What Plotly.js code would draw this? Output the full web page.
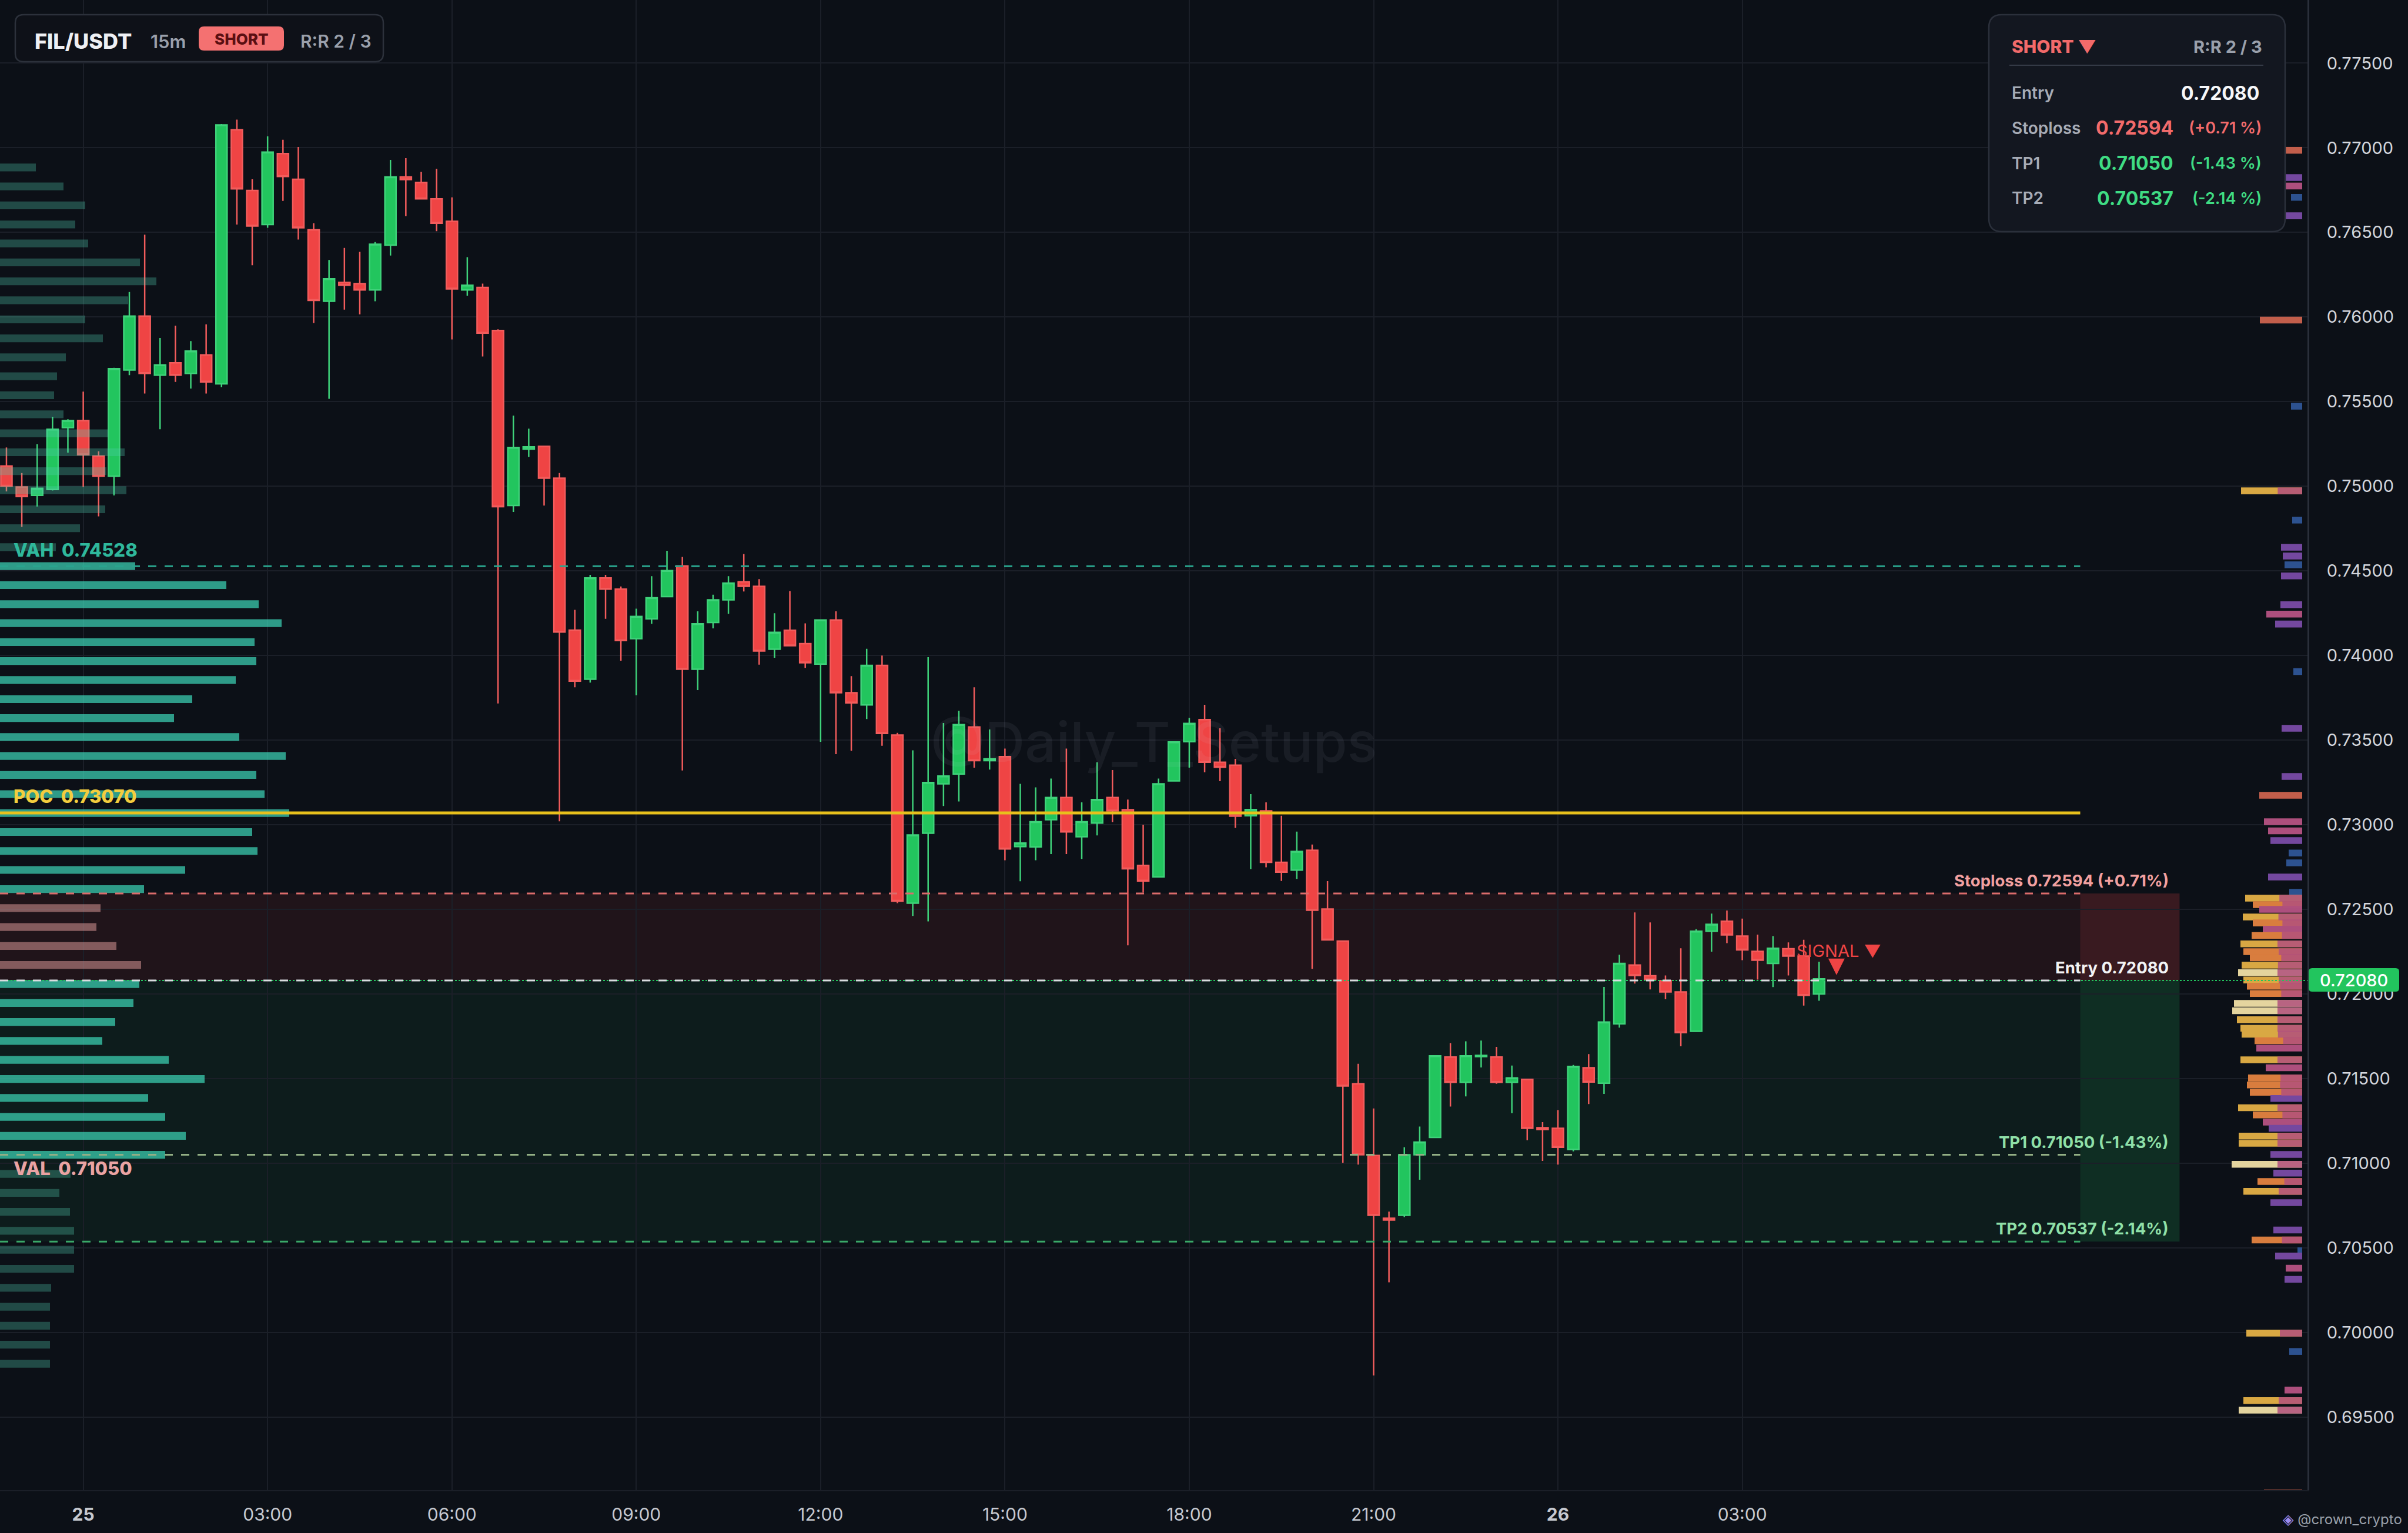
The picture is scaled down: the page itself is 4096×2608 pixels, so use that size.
<!DOCTYPE html>
<html><head><meta charset="utf-8">
<script src="https://cdn.plot.ly/plotly-3.0.1.min.js"></script>
<style>html,body{margin:0;padding:0;background:#0c1017;}#chart{width:4096px;height:2608px;}</style>
</head><body><div id="chart"></div>
<script>
// ---------------- DATA ----------------
const symbol = 'FIL/USDT';
const timeframe = '15m';
const firstBarDay = 24, firstBarMinute = 22 * 60 + 45, barMinutes = 15;

const open = [0.75120,0.74996,0.74946,0.74981,0.75346,0.75388,0.75179,0.75060,0.75687,0.76005,
0.75656,0.75729,0.75667,0.75776,0.75605,0.77106,0.76748,0.76546,0.76966,0.76814,
0.76515,0.76093,0.76204,0.76197,0.76160,0.76425,0.76828,0.76795,0.76698,0.76565,
0.76160,0.76175,0.75920,0.74886,0.75220,0.75236,0.75048,0.74150,0.73860,0.74458,
0.74392,0.74100,0.74217,0.74348,0.74529,0.73919,0.74195,0.74329,0.74436,0.74409,
0.74037,0.74149,0.74070,0.73949,0.74210,0.73780,0.73708,0.73942,0.73530,0.72537,
0.72950,0.73242,0.73300,0.73578,0.73379,0.73402,0.72871,0.72869,0.73030,0.73161,
0.72929,0.73010,0.73161,0.73089,0.72760,0.72692,0.73259,0.73491,0.73621,0.73369,
0.73352,0.73053,0.73082,0.72778,0.72732,0.72849,0.72502,0.72313,0.71470,0.71046,
0.70675,0.70693,0.71050,0.71153,0.71628,0.71478,0.71630,0.71628,0.71478,0.71496,
0.71210,0.71207,0.71082,0.71564,0.71473,0.71824,0.72171,0.72108,0.72079,0.72012,
0.71780,0.72371,0.72430,0.72342,0.72252,0.72181,0.72268,0.72224,0.72000];

const high = [0.75229,0.75078,0.75249,0.75411,0.75396,0.75559,0.75207,0.75700,0.76148,0.76486,
0.75876,0.75949,0.75858,0.75957,0.77140,0.77166,0.76814,0.77067,0.77047,0.77005,
0.76554,0.76337,0.76408,0.76385,0.76443,0.76928,0.76939,0.76857,0.76875,0.76707,
0.76354,0.76197,0.75927,0.75418,0.75340,0.75236,0.75078,0.74270,0.74476,0.74476,
0.74408,0.74277,0.74469,0.74619,0.74582,0.74261,0.74359,0.74469,0.74600,0.74451,
0.74250,0.74381,0.74190,0.74210,0.74261,0.73878,0.74040,0.74000,0.73543,0.73440,
0.73990,0.73601,0.73673,0.73812,0.73563,0.73450,0.73242,0.73221,0.73273,0.73450,
0.73132,0.73369,0.73323,0.73149,0.73000,0.73273,0.73489,0.73632,0.73709,0.73570,
0.73389,0.73181,0.73132,0.73053,0.72960,0.72883,0.72667,0.72313,0.71588,0.71324,
0.70714,0.71095,0.71217,0.71635,0.71710,0.71721,0.71725,0.71688,0.71577,0.71496,
0.71243,0.71314,0.71581,0.71645,0.72042,0.72232,0.72482,0.72423,0.72110,0.72270,
0.72383,0.72475,0.72493,0.72446,0.72351,0.72342,0.72305,0.72321,0.72190];

const low = [0.74970,0.74760,0.74880,0.74975,0.75199,0.74996,0.74822,0.74946,0.75656,0.75548,
0.75337,0.75616,0.75577,0.75548,0.75586,0.76546,0.76306,0.76527,0.76686,0.76458,
0.75965,0.75517,0.76044,0.76016,0.76093,0.76363,0.76596,0.76698,0.76507,0.75867,
0.76126,0.75767,0.73717,0.74848,0.75174,0.74886,0.73020,0.73812,0.73840,0.74217,
0.73969,0.73765,0.74187,0.74348,0.73321,0.73796,0.74160,0.74246,0.74378,0.73946,
0.73987,0.74058,0.73927,0.73490,0.73417,0.73437,0.73625,0.73467,0.72537,0.72461,
0.72429,0.73111,0.73138,0.73337,0.73326,0.72790,0.72666,0.72790,0.72827,0.72827,
0.72798,0.72937,0.73016,0.72288,0.72599,0.72692,0.73259,0.73337,0.73310,0.73257,
0.72981,0.72738,0.72749,0.72668,0.72680,0.72149,0.72320,0.71003,0.70992,0.69746,
0.70297,0.70682,0.70903,0.71153,0.71335,0.71395,0.71566,0.71470,0.71296,0.71136,
0.71014,0.70992,0.71070,0.71350,0.71410,0.71801,0.72062,0.72027,0.71969,0.71691,
0.71780,0.72250,0.72301,0.72200,0.72085,0.72041,0.72110,0.71932,0.71960];

const close = [0.75001,0.74939,0.74988,0.75337,0.75388,0.75187,0.75060,0.75695,0.76005,0.75667,
0.75717,0.75656,0.75799,0.75616,0.77135,0.76757,0.76538,0.76974,0.76830,0.76527,
0.76098,0.76226,0.76188,0.76160,0.76430,0.76828,0.76812,0.76698,0.76554,0.76166,
0.76188,0.75905,0.74879,0.75229,0.75233,0.75048,0.74139,0.73849,0.74458,0.74392,
0.74088,0.74231,0.74341,0.74502,0.73919,0.74187,0.74329,0.74428,0.74409,0.74027,
0.74137,0.74058,0.73957,0.74210,0.73780,0.73720,0.73942,0.73540,0.72549,0.72940,
0.73250,0.73288,0.73592,0.73379,0.73389,0.72857,0.72892,0.73018,0.73161,0.72958,
0.73018,0.73149,0.73082,0.72740,0.72668,0.73242,0.73489,0.73599,0.73369,0.73340,
0.73051,0.73090,0.72778,0.72720,0.72842,0.72495,0.72320,0.71457,0.71050,0.70693,
0.70665,0.71050,0.71125,0.71635,0.71478,0.71635,0.71637,0.71478,0.71504,0.71207,
0.71200,0.71095,0.71572,0.71480,0.71834,0.72181,0.72110,0.72085,0.72012,0.71772,
0.72371,0.72412,0.72349,0.72261,0.72200,0.72270,0.72224,0.71992,0.72090];

// trade levels
const vahPrice = 0.74528, pocPrice = 0.73070, valPrice = 0.71050;
const entryPrice = 0.72080, stopPrice = 0.72594, tp1Price = 0.71050, tp2Price = 0.70537;
const stopPct = '+0.71', tp1Pct = '-1.43', tp2Pct = '-2.14';
const rrText = 'R:R 2 / 3';

// left volume profile (price bin, relative volume)
const lpPrice = [0.76884,0.76772,0.76660,0.76547,0.76435,0.76323,0.76211,0.76099,0.75986,0.75874,
0.75762,0.75650,0.75538,0.75425,0.75313,0.75201,0.75089,0.74977,0.74864,0.74752,
0.74640,0.74528,0.74416,0.74303,0.74191,0.74079,0.73967,0.73855,0.73742,0.73630,
0.73518,0.73406,0.73294,0.73181,0.73069,0.72957,0.72845,0.72733,0.72620,0.72508,
0.72396,0.72284,0.72172,0.72059,0.71947,0.71835,0.71723,0.71611,0.71498,0.71386,
0.71274,0.71162,0.71050,0.70937,0.70825,0.70713,0.70601,0.70489,0.70376,0.70264,
0.70152,0.70040,0.69928,0.69815];
const lpVolume = [61,108,145,128,150,238,266,218,145,175,
112,97,92,108,184,212,181,215,179,136,
95,230,385,440,479,433,436,401,327,296,
407,486,436,450,492,429,438,315,245,171,
164,198,240,237,227,196,174,287,348,252,
281,316,281,120,101,119,126,126,126,87,
85,85,85,85];

// right volume profile (price, relative volume, tone)
const rpPrice = [0.76985,0.76824,0.76774,0.76707,0.76598,0.75982,0.75473,0.74973,0.74800,0.74640,
0.74588,0.74536,0.74470,0.74300,0.74245,0.74186,0.73905,0.73570,0.73285,0.73174,
0.73018,0.72964,0.72907,0.72833,0.72775,0.72691,0.72601,0.72566,0.72528,0.72500,
0.72455,0.72420,0.72383,0.72346,0.72296,0.72250,0.72214,0.72170,0.72126,0.72083,
0.72046,0.72003,0.71945,0.71901,0.71848,0.71798,0.71762,0.71724,0.71681,0.71611,
0.71564,0.71504,0.71463,0.71419,0.71383,0.71328,0.71286,0.71243,0.71207,0.71161,
0.71118,0.71052,0.70994,0.70942,0.70892,0.70834,0.70767,0.70606,0.70547,0.70483,
0.70452,0.70380,0.70314,0.69996,0.69888,0.69660,0.69598,0.69541,0.69052];
const rpVolume = [29,29,29,19,33,72,19,104,17,36,
33,30,36,37,61,46,15,35,35,73,
65,58,54,23,27,58,22,97,84,73,
101,84,67,86,105,100,89,103,109,100,
94,89,116,119,111,105,103,81,78,105,
62,92,94,89,54,109,84,67,57,108,
108,54,120,49,76,100,54,49,86,8,
46,28,30,95,22,30,100,108,65];
const rpTone = ['S','V','P','B','V','S','B','Y','B','V',
'V','B','V','V','P','V','B','V','V','S',
'P','P','V','B','B','V','B','Y','O','P',
'Y','O','P','O','Y','O','O','Y','C','Y',
'O','O','C','C','Y','Y','Y','O','P','Y',
'P','O','O','O','V','Y','O','P','V','Y',
'Y','V','C','V','O','Y','V','V','O','B',
'V','P','V','Y','B','P','Y','C','S'];

const xTickVals = ['2025-01-25 00:00','2025-01-25 03:00','2025-01-25 06:00','2025-01-25 09:00','2025-01-25 12:00',
'2025-01-25 15:00','2025-01-25 18:00','2025-01-25 21:00','2025-01-26 00:00','2025-01-26 03:00'];
const xTickText = ['<b>25</b>','03:00','06:00','09:00','12:00','15:00','18:00','21:00','<b>26</b>','03:00'];
const yTickVals = [0.695,0.700,0.705,0.710,0.715,0.720,0.725,0.730,0.735,0.740,0.745,0.750,0.755,0.760,0.765,0.770,0.775];

// ---------------- STYLE / LAYOUT ----------------
function stamp(totalMin){
  const d = firstBarDay + Math.floor(totalMin / 1440);
  const m = totalMin % 1440;
  const p = n => String(n).padStart(2,'0');
  return `2025-01-${p(d)} ${p(Math.floor(m/60))}:${p(m%60)}`;
}
const times = open.map((_, i) => stamp(firstBarMinute + i * barMinutes));

const BG = '#0c1017';
const FONT = 'Inter, "Noto Sans", "DejaVu Sans", sans-serif';
const W = 3925, H = 2535;           // plot area in pixels
const PX = v => v / W, PY = v => 1 - v / H;
const xRange = ['2025-01-24 22:38:42', '2025-01-26 12:11:54'];
const lineEnd = '2025-01-26 08:30';
const zoneEnd = '2025-01-26 10:07';
const labelX = '2025-01-26 09:57:30';

const toneColor = {Y:'#d9a843', C:'#e4d49e', O:'#d97d3e', S:'#c25e4b', P:'#ad4f7d', V:'#74489f', B:'#2d5290'};

const lpColor = lpPrice.map(p => {
  if (p > entryPrice && p < stopPrice) return 'rgba(215,150,150,0.55)';
  if (p <= vahPrice + 1e-6 && p >= valPrice - 1e-6) return 'rgba(64,231,197,0.65)';
  return 'rgba(82,209,180,0.30)';
});

const traces = [
  {
    type:'candlestick', x: times, open, high, low, close, xaxis:'x', yaxis:'y',
    increasing:{fillcolor:'#22c55e', line:{color:'#3fd27a', width:2.5}},
    decreasing:{fillcolor:'#ef4444', line:{color:'#f25c5c', width:2.5}},
    whiskerwidth:0, hoverinfo:'skip', showlegend:false
  },
  {
    type:'bar', orientation:'h', y: lpPrice, x: lpVolume, xaxis:'x2', yaxis:'y',
    width: 0.00046, marker:{color: lpColor, line:{width:0}}, hoverinfo:'skip', showlegend:false
  },
  {
    type:'bar', orientation:'h', y: rpPrice, x: rpVolume, xaxis:'x3', yaxis:'y',
    width: 0.0004, marker:{color: rpTone.map(t => toneColor[t]), line:{width:0}}, hoverinfo:'skip', showlegend:false
  },
  {
    type:'bar', orientation:'h', y: rpPrice,
    x: rpVolume.map((v, i) => ('YCO'.includes(rpTone[i]) ? Math.min(v * 0.4, 42) : 0)),
    xaxis:'x3', yaxis:'y', width: 0.0004,
    marker:{color:'rgba(176,80,125,0.85)', line:{width:0}}, hoverinfo:'skip', showlegend:false
  }
];

function rr(x0, y0, x1, y1, r){
  const X = v => PX(v), Y = v => PY(v);
  return `M${X(x0+r)},${Y(y0)} L${X(x1-r)},${Y(y0)} Q${X(x1)},${Y(y0)} ${X(x1)},${Y(y0+r)} ` +
         `L${X(x1)},${Y(y1-r)} Q${X(x1)},${Y(y1)} ${X(x1-r)},${Y(y1)} L${X(x0+r)},${Y(y1)} ` +
         `Q${X(x0)},${Y(y1)} ${X(x0)},${Y(y1-r)} L${X(x0)},${Y(y0+r)} Q${X(x0)},${Y(y0)} ${X(x0+r)},${Y(y0)} Z`;
}
function hline(y, color, width, dash, x0, x1){
  return {type:'line', xref:'x', yref:'y', x0: x0 || xRange[0], x1: x1 || lineEnd, y0:y, y1:y,
          line:{color, width, dash}, layer:'above'};
}

const shapes = [
  // trade zones
  {type:'rect', xref:'x', yref:'y', x0:xRange[0], x1:lineEnd, y0:entryPrice, y1:stopPrice, fillcolor:'rgba(239,68,68,0.09)', line:{width:0}, layer:'below'},
  {type:'rect', xref:'x', yref:'y', x0:lineEnd, x1:zoneEnd, y0:entryPrice, y1:stopPrice, fillcolor:'rgba(239,68,68,0.20)', line:{width:0}, layer:'below'},
  {type:'rect', xref:'x', yref:'y', x0:xRange[0], x1:lineEnd, y0:tp2Price, y1:entryPrice, fillcolor:'rgba(34,197,94,0.07)', line:{width:0}, layer:'below'},
  {type:'rect', xref:'x', yref:'y', x0:lineEnd, x1:zoneEnd, y0:tp2Price, y1:entryPrice, fillcolor:'rgba(34,197,94,0.17)', line:{width:0}, layer:'below'},
  // levels
  hline(vahPrice, '#2aa58e', 3, '14px,14px'),
  hline(pocPrice, '#e8c01c', 5, 'solid'),
  hline(stopPrice, '#dc6c6c', 3, '14px,14px'),
  {type:'line', xref:'paper', yref:'y', x0:0, x1:1, y0:entryPrice, y1:entryPrice, line:{color:'#22c55e', width:2, dash:'dot'}, layer:'above'},
  hline(entryPrice, '#d9dcdf', 3, '14px,14px'),
  hline(valPrice, '#d87878', 3, '14px,14px'),
  hline(tp1Price, 'rgba(110,205,140,0.65)', 3, '14px,14px'),
  hline(tp2Price, '#3aa868', 3, '14px,14px'),
  // header box
  {type:'path', xref:'paper', yref:'paper', path: rr(26,25,652,105,14), fillcolor:'#0e1118', line:{color:'#2c313b', width:2.5}, layer:'above'},
  {type:'path', xref:'paper', yref:'paper', path: rr(338,45,483,86,9), fillcolor:'#f47171', line:{width:0}, layer:'above'},
  // info box
  {type:'path', xref:'paper', yref:'paper', path: rr(3383,25,3887,394,22), fillcolor:'#131720', line:{color:'#2b303b', width:2.5}, layer:'above'},
  {type:'line', xref:'paper', yref:'paper', x0:PX(3418), x1:PX(3850), y0:PY(111), y1:PY(111), line:{color:'#343a46', width:2}, layer:'above'},
  // axis price tag
  {type:'path', xref:'paper', yref:'paper', path: rr(3927,1647,4081,1687,6), fillcolor:'#22c55e', line:{width:0}, layer:'above'}
];

function note(x, y, text, size, color, xanchor, weight, extra){
  return Object.assign({xref:'paper', yref:'paper', x:PX(x), y:PY(y), text, showarrow:false,
    xanchor: xanchor || 'left', yanchor:'middle',
    font:{family:FONT, size, color, weight: weight || 400}}, extra || {});
}
function lvl(y, text, color, yshift, yanchor){
  return {xref:'x', yref:'y', x: labelX, y, text, showarrow:false, xanchor:'right', yanchor: yanchor || 'bottom',
    yshift: yshift, font:{family:FONT, size:27.5, color, weight:700}};
}
function pLabel(y, text, color, yshift){
  return {xref:'paper', yref:'y', x:PX(21), y, text, showarrow:false, xanchor:'left', yanchor:'middle',
    yshift, font:{family:FONT, size:31, color, weight:800}};
}
const f5 = v => v.toFixed(5);

const annotations = [
  // watermark
  note(1962, 1262, '@Daily_T_Setups', 94, 'rgba(215,222,240,0.065)', 'center', 500),
  // header
  note(57, 70, symbol, 36, '#eef0f4', 'left', 800),
  note(254, 70, timeframe, 31, '#9aa0ab', 'left', 600),
  note(410.5, 67, 'SHORT', 26, '#5b0f12', 'center', 800),
  note(509, 70, rrText, 30, '#9aa0ab', 'left', 600),
  // info box
  note(3420, 79, 'SHORT ▼', 30, '#f26a6a', 'left', 800),
  note(3850, 79, rrText, 29, '#9aa0ab', 'right', 700),
  note(3420, 158, 'Entry', 28, '#a7acb6', 'left', 600),
  note(3845, 158, f5(entryPrice), 32, '#f6f7f9', 'right', 700),
  note(3420, 218, 'Stoploss', 28, '#a7acb6', 'left', 600),
  note(3699, 218, f5(stopPrice), 32, '#f26b6b', 'right', 700),
  note(3849, 218, `(${stopPct} %)`, 27, '#f26b6b', 'right', 600),
  note(3420, 278, 'TP1', 28, '#a7acb6', 'left', 600),
  note(3699, 278, f5(tp1Price), 32, '#3fdc83', 'right', 700),
  note(3849, 278, `(${tp1Pct} %)`, 27, '#3fdc83', 'right', 600),
  note(3420, 337, 'TP2', 28, '#a7acb6', 'left', 600),
  note(3699, 337, f5(tp2Price), 32, '#3fdc83', 'right', 700),
  note(3849, 337, `(${tp2Pct} %)`, 27, '#3fdc83', 'right', 600),
  // profile labels
  pLabel(vahPrice, `VAH  ${f5(vahPrice)}`, '#2fb89c', 28),
  pLabel(pocPrice, `POC  ${f5(pocPrice)}`, '#f3cd3e', 28),
  pLabel(valPrice, `VAL  ${f5(valPrice)}`, '#eaa3a3', -23),
  // level labels
  lvl(stopPrice, `Stoploss ${f5(stopPrice)} (${stopPct}%)`, '#f2a0a0', 3),
  lvl(entryPrice, `Entry ${f5(entryPrice)}`, '#f2f3f5', 3),
  lvl(tp1Price, `TP1 ${f5(tp1Price)} (${tp1Pct}%)`, '#8fe0a8', 3),
  lvl(tp2Price, `TP2 ${f5(tp2Price)} (${tp2Pct}%)`, '#8fe0a8', 3),
  // signal
  {xref:'x', yref:'y', x:'2025-01-26 03:52', y:0.72257, text:'SIGNAL ▼', showarrow:false, xanchor:'left', yanchor:'middle',
   font:{family:FONT, size:29, color:'#ef4444', weight:400}},
  {xref:'x', yref:'y', x:'2025-01-26 04:32', y:0.72112, text:'', showarrow:true, ax:0, ay:-24,
   arrowhead:2, arrowsize:0.8, arrowwidth:7, arrowcolor:'#ef4444'},
  // axis price tag
  note(4004, 1667, f5(entryPrice), 29, '#ffffff', 'center', 500),
  // credit
  note(4088, 2584, '<span style="color:#9d8cf0">◈</span> @crown_crypto', 24, '#9aa0aa', 'right', 400)
];

const layout = {
  width:4096, height:2608,
  paper_bgcolor:BG, plot_bgcolor:BG,
  margin:{l:0, r:171, t:0, b:73, pad:0},
  showlegend:false, barmode:'overlay', dragmode:false,
  boxgap:0.27, boxgroupgap:0,
  xaxis:{type:'date', range:xRange, tickvals:xTickVals, ticktext:xTickText, tickmode:'array',
    showgrid:true, gridcolor:'#1b1f28', gridwidth:2, zeroline:false, ticks:'',
    showline:true, linecolor:'#1b1f28', linewidth:2,
    tickfont:{family:FONT, size:30, color:'#c6c9d0'}, ticklabelstandoff:14,
    rangeslider:{visible:false}, fixedrange:true},
  xaxis2:{overlaying:'x', range:[0, W], visible:false, showgrid:false, fixedrange:true},
  xaxis3:{overlaying:'x', range:[3916, -9], visible:false, showgrid:false, fixedrange:true},
  yaxis:{side:'right', range:[0.69069, 0.77873], tickvals:yTickVals, tickformat:'.5f',
    showgrid:true, gridcolor:'#1b1f28', gridwidth:2, zeroline:false, ticks:'',
    showline:true, linecolor:'#2a2f3a', linewidth:3,
    tickfont:{family:FONT, size:29, color:'#d3d6dc'}, ticklabelstandoff:24, fixedrange:true},
  shapes, annotations
};

Plotly.newPlot('chart', traces, layout, {staticPlot:true, displayModeBar:false});
</script>
</body></html>
